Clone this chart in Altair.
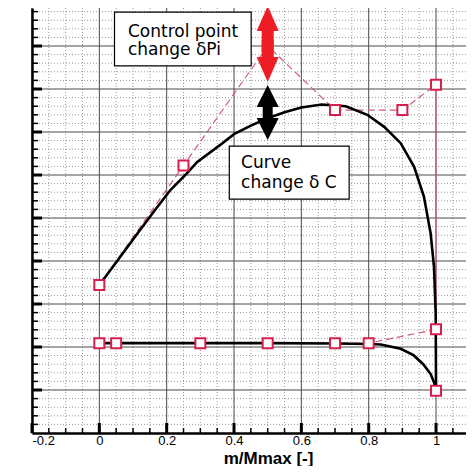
import altair as alt
import pandas as pd

# ---------------- data ----------------
# upper black curve
up_x = [0.0, 0.053, 0.112, 0.166, 0.211, 0.26, 0.29, 0.359, 0.40, 0.45, 0.50, 0.55, 0.60,
        0.66, 0.732, 0.796, 0.846, 0.895, 0.935, 0.964, 0.984, 0.994, 0.999, 1.0]
up_y = [3.44, 4.0, 4.63, 5.19, 5.65, 6.04, 6.30, 6.70, 6.95, 7.15, 7.32, 7.46, 7.57,
        7.64, 7.60, 7.40, 7.12, 6.74, 6.19, 5.50, 4.64, 3.86, 2.77, 0.99]
# lower black curve
lo_x = [0.0, 0.05, 0.3, 0.5, 0.7, 0.8, 0.836, 0.895, 0.933, 0.962, 0.984, 0.994, 1.0]
lo_y = [2.09, 2.09, 2.09, 2.09, 2.08, 2.07, 2.06, 1.96, 1.81, 1.60, 1.37, 1.18, 0.99]

# control polygon (dashed parts and solid vertical part)
cpa_x = [0.0, 0.25, 0.5, 0.7, 0.9, 1.0]
cpa_y = [3.44, 6.22, 9.0, 7.51, 7.51, 8.1]
cpb_x = [1.0, 0.8, 0.7, 0.5, 0.3, 0.05, 0.0]
cpb_y = [2.41, 2.09, 2.09, 2.09, 2.09, 2.09, 2.09]
cpv_x = [1.0, 1.0, 1.0]
cpv_y = [8.1, 2.41, 0.98]

# control point markers
pt_x = [0.0, 0.25, 0.5, 0.7, 0.9, 1.0, 1.0, 1.0, 0.8, 0.7, 0.5, 0.3, 0.05, 0.0]
pt_y = [3.44, 6.22, 9.0, 7.51, 7.51, 8.1, 2.41, 0.98, 2.09, 2.09, 2.09, 2.09, 2.09, 2.09]

# axis tick values
x_major = [-0.2, 0.0, 0.2, 0.4, 0.6, 0.8, 1.0]
x_minor = [-0.15, -0.1, -0.05, 0.05, 0.1, 0.15, 0.25, 0.3, 0.35, 0.45, 0.5, 0.55,
           0.65, 0.7, 0.75, 0.85, 0.9, 0.95, 1.05]
y_major = [1, 2, 3, 4, 5, 6, 7, 8, 9]
y_minor = [0.2, 0.4, 0.6, 0.8, 1.2, 1.4, 1.6, 1.8, 2.2, 2.4, 2.6, 2.8, 3.2, 3.4, 3.6, 3.8,
           4.2, 4.4, 4.6, 4.8, 5.2, 5.4, 5.6, 5.8, 6.2, 6.4, 6.6, 6.8, 7.2, 7.4, 7.6, 7.8,
           8.2, 8.4, 8.6, 8.8, 9.2, 9.4, 9.6, 9.8]

# annotation boxes and texts
box_x = [0.045, 0.386]
box_x2 = [0.451, 0.742]
box_y = [9.79, 6.67]
box_y2 = [8.54, 5.44]
txt_x = [0.085, 0.085, 0.421, 0.421]
txt_y = [9.22, 8.79, 6.16, 5.70]
txt = ["Control point", "change δPi", "Curve", "change δ C"]

# arrows
arr_x = 0.5
red_up_y, red_dn_y, red_shaft = 9.64, 8.453, (9.42, 8.67)
blk_up_y, blk_dn_y, blk_shaft = 7.837, 7.07, (7.65, 7.26)

# ---------------- chart ----------------
XD = [-0.2, 1.089]
YD = [0, 9.884]
xs = alt.Scale(domain=XD, nice=False, zero=False)
ys = alt.Scale(domain=YD, nice=False, zero=False)

xaxis = alt.Axis(values=x_major, grid=False, ticks=False, domain=True, domainColor="black",
                 domainWidth=2.5, labelFont="Liberation Sans", labelFontSize=13,
                 labelColor="black", labelPadding=1, zindex=1,
                 labelExpr="datum.value < 0 ? '-' + format(-datum.value, '~g') : format(datum.value, '~g')",
                 title="m/Mmax [-]", titleFont="Liberation Sans", titleFontSize=17,
                 titleFontWeight="bold", titleColor="black", titleX=236, titleY=30,
                 titleBaseline="alphabetic")
yaxis = alt.Axis(labels=False, ticks=False, grid=False, domain=True, domainColor="black",
                 domainWidth=2.5, title=None, zindex=1)


def X(f):
    return alt.X(f, type="quantitative", scale=xs, axis=xaxis)


def Y(f):
    return alt.Y(f, type="quantitative", scale=ys, axis=yaxis)


dxmin = pd.DataFrame({"x": x_minor})
dymin = pd.DataFrame({"y": y_minor})
dxmaj = pd.DataFrame({"x": x_major})
dymaj = pd.DataFrame({"y": y_major})

minor_v = alt.Chart(dxmin).mark_rule(color="#9a9a9a", strokeWidth=1, strokeDash=[1, 2]).encode(x=X("x"))
minor_h = alt.Chart(dymin).mark_rule(color="#9a9a9a", strokeWidth=1, strokeDash=[1, 2]).encode(y=Y("y"))
major_v = alt.Chart(dxmaj).mark_rule(color="#4a4a4a", strokeWidth=1).encode(x=X("x"))
major_h = alt.Chart(dymaj).mark_rule(color="#4a4a4a", strokeWidth=1).encode(y=Y("y"))

tick_bmaj = alt.Chart(dxmaj).mark_rule(color="black", strokeWidth=3).encode(
    x=X("x"), y=alt.value(425), y2=alt.value(415))
tick_bmin = alt.Chart(dxmin).mark_rule(color="black", strokeWidth=1.5).encode(
    x=X("x"), y=alt.value(425), y2=alt.value(420))
tick_lmaj = alt.Chart(dymaj).mark_rule(color="black", strokeWidth=3).encode(
    y=Y("y"), x=alt.value(0), x2=alt.value(10))
tick_lmin = alt.Chart(dymin).mark_rule(color="black", strokeWidth=1.5).encode(
    y=Y("y"), x=alt.value(0), x2=alt.value(6))

dpoly = pd.DataFrame({
    "x": cpa_x + cpb_x,
    "y": cpa_y + cpb_y,
    "seg": ["a"] * len(cpa_x) + ["b"] * len(cpb_x),
    "o": list(range(len(cpa_x))) + list(range(len(cpb_x))),
})
poly = alt.Chart(dpoly).mark_line(color="#cc5a80", strokeWidth=1.2, strokeDash=[7, 4]).encode(
    x=X("x"), y=Y("y"), detail="seg:N", order="o:Q")
dvert = pd.DataFrame({"x": cpv_x, "y": cpv_y, "o": list(range(len(cpv_x)))})
vert = alt.Chart(dvert).mark_line(color="#cc5a80", strokeWidth=1.2).encode(
    x=X("x"), y=Y("y"), order="o:Q")

dcurve = pd.DataFrame({
    "x": up_x + lo_x,
    "y": up_y + lo_y,
    "seg": ["u"] * len(up_x) + ["l"] * len(lo_x),
    "o": list(range(len(up_x))) + list(range(len(lo_x))),
})
curve = alt.Chart(dcurve).mark_line(color="black", strokeWidth=2.6).encode(
    x=X("x"), y=Y("y"), detail="seg:N", order="o:Q")

dpts = pd.DataFrame({"x": pt_x, "y": pt_y})
pts = alt.Chart(dpts).mark_point(shape="square", filled=True, fill="white", stroke="#d61f4c",
                                 strokeWidth=2, size=100, opacity=1, fillOpacity=1).encode(
    x=X("x"), y=Y("y"))

dbox = pd.DataFrame({"x": box_x, "x2": box_x2, "y": box_y, "y2": box_y2})
boxes = alt.Chart(dbox).mark_rect(fill="white", stroke="black", strokeWidth=1.2).encode(
    x=X("x"), x2="x2", y=Y("y"), y2="y2")

dtxt = pd.DataFrame({"x": txt_x, "y": txt_y, "t": txt})
texts = alt.Chart(dtxt).mark_text(align="left", baseline="alphabetic", font="DejaVu Sans",
                                  fontSize=17, color="black").encode(
    x=X("x"), y=Y("y"), text="t:N")

UP_R = "M0,-1L0.88,1L-0.88,1Z"
DN_R = "M0,1L0.88,-1L-0.88,-1Z"
UP_B = "M0,-1L1,1L-1,1Z"
DN_B = "M0,1L1,-1L-1,-1Z"

dred_s = pd.DataFrame({"x": [arr_x], "y": [red_shaft[0]], "y2": [red_shaft[1]]})
dblk_s = pd.DataFrame({"x": [arr_x], "y": [blk_shaft[0]], "y2": [blk_shaft[1]]})
red_shaft_m = alt.Chart(dred_s).mark_rule(color="#ee1c24", strokeWidth=12).encode(
    x=X("x"), y=Y("y"), y2="y2")
blk_shaft_m = alt.Chart(dblk_s).mark_rule(color="black", strokeWidth=10).encode(
    x=X("x"), y=Y("y"), y2="y2")
red_up = alt.Chart(pd.DataFrame({"x": [arr_x], "y": [red_up_y]})).mark_point(
    shape=UP_R, size=625, filled=True, color="#ee1c24", opacity=1).encode(x=X("x"), y=Y("y"))
red_dn = alt.Chart(pd.DataFrame({"x": [arr_x], "y": [red_dn_y]})).mark_point(
    shape=DN_R, size=625, filled=True, color="#ee1c24", opacity=1).encode(x=X("x"), y=Y("y"))
blk_up = alt.Chart(pd.DataFrame({"x": [arr_x], "y": [blk_up_y]})).mark_point(
    shape=UP_B, size=484, filled=True, color="black", opacity=1).encode(x=X("x"), y=Y("y"))
blk_dn = alt.Chart(pd.DataFrame({"x": [arr_x], "y": [blk_dn_y]})).mark_point(
    shape=DN_B, size=484, filled=True, color="black", opacity=1).encode(x=X("x"), y=Y("y"))

chart = alt.layer(
    minor_v, minor_h, major_v, major_h,
    tick_bmin, tick_bmaj, tick_lmin, tick_lmaj,
    poly, vert, curve, pts, boxes, texts,
    red_shaft_m, red_up, red_dn, blk_shaft_m, blk_up, blk_dn,
).properties(
    width=434, height=425,
    autosize=alt.AutoSizeParams(type="none"),
    padding={"left": 24, "top": 0, "right": 0, "bottom": 33},
    background="white",
).configure_view(stroke=None)

chart.save("out.html", embed_options={"renderer": "svg", "actions": False})
